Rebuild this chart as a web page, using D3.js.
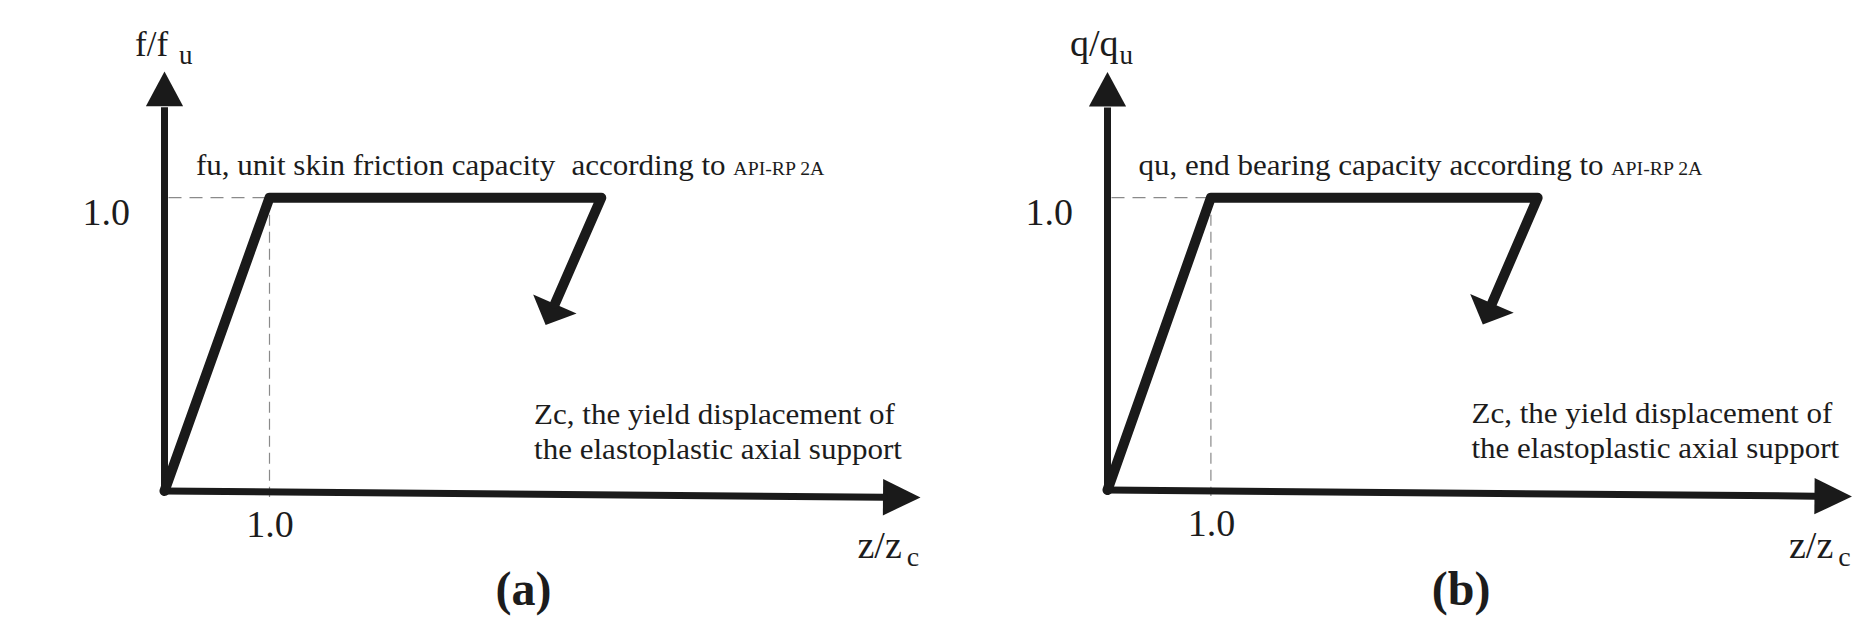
<!DOCTYPE html>
<html>
<head>
<meta charset="utf-8">
<script src="https://cdn.jsdelivr.net/npm/d3@7/dist/d3.min.js"></script>
<style>
  html, body { margin: 0; padding: 0; background: #fff; }
  svg { display: block; }
  text { font-family: "Liberation Serif", "Times New Roman", serif; fill: #1c1c1c; }
</style>
</head>
<body>
<svg id="chart"></svg>
<script>
// ---------------- data ----------------
const panelTags   = ["(a)", "(b)"];
const yLabelMain  = ["f/f", "q/q"];
const yLabelSub   = ["u", "u"];
const xLabelMain  = "z/z";
const xLabelSub   = "c";
const topNotes    = ["fu, unit skin friction capacity", "qu, end bearing capacity"];
const topNotesEnd = "according to";
const standardRef = "API-RP 2A";
const zcNote      = ["Zc, the yield displacement of", "the elastoplastic axial support"];
const curveZ      = [0, 1.0, 4.16];   // z/zc
const curveF      = [0, 1.0, 1.0];    // f/fu (q/qu)
const dropTipZ    = 3.63;             // softening arrow tip
const dropTipF    = 0.566;
const xTickValues = [1.0];
const yTickValues = [1.0];
const zMax = 7.2, fMax = 1.43;

// ---------------- layout ----------------
const W = 1871, H = 629;
const layout = [
  { x0: 164.5,  unitX: 105.0, y0: 491, unitY: 293.3, yLabelDx: -29.5, yLabelFont: 35, subDx: 11, noteGap: 8 },
  { x0: 1107.5, unitX: 103.4, y0: 490, unitY: 292.3, yLabelDx: -37.5, yLabelFont: 38, subDx: 1,  noteGap: 0 }
];
const ink = "#1a1a1a";

const svg = d3.select("#chart").attr("width", W).attr("height", H);

function arrowHead(g, tip, from, len, hw) {
  const dx = tip[0] - from[0], dy = tip[1] - from[1];
  const L = Math.hypot(dx, dy), ux = dx / L, uy = dy / L;
  const bx = tip[0] - ux * len, by = tip[1] - uy * len;
  const px = -uy, py = ux;
  g.append("path")
    .attr("d", d3.line()([tip, [bx + px * hw, by + py * hw], [bx - px * hw, by - py * hw]]) + "Z")
    .attr("fill", ink);
  return [bx, by];
}

layout.forEach((P, i) => {
  const x = d3.scaleLinear().domain([0, zMax]).range([P.x0, P.x0 + zMax * P.unitX]);
  const y = d3.scaleLinear().domain([0, fMax]).range([P.y0, P.y0 - fMax * P.unitY]);
  const g = svg.append("g");

  // dashed guide lines at 1.0
  g.append("line")
    .attr("x1", x(0) + 4).attr("x2", x(xTickValues[0]))
    .attr("y1", y(yTickValues[0])).attr("y2", y(yTickValues[0]))
    .attr("stroke", "#8a8a8a").attr("stroke-width", 1.2).attr("stroke-dasharray", "13,8");
  g.append("line")
    .attr("x1", x(xTickValues[0])).attr("x2", x(xTickValues[0]))
    .attr("y1", y(yTickValues[0])).attr("y2", y(0) + 6)
    .attr("stroke", "#8a8a8a").attr("stroke-width", 1.2).attr("stroke-dasharray", "11,6");

  // y axis with arrow
  const yTip = [x(0), y(fMax)];
  const yBase = arrowHead(g, yTip, [x(0), y(0)], 34.6, 18.6);
  g.append("line")
    .attr("x1", x(0)).attr("y1", y(0) + 3)
    .attr("x2", x(0)).attr("y2", yBase[1] + 1)
    .attr("stroke", ink).attr("stroke-width", 7);

  // x axis with arrow (slightly tilted as drawn)
  const xTip = [x(zMax), y(0) + 6.5];
  const xBase = arrowHead(g, xTip, [x(0), y(0)], 37.5, 18.2);
  g.append("line")
    .attr("x1", x(0)).attr("y1", y(0))
    .attr("x2", xBase[0] + 1).attr("y2", xBase[1])
    .attr("stroke", ink).attr("stroke-width", 7).attr("stroke-linecap", "round");

  // load-displacement curve with softening arrow
  const pts = curveZ.map((z, k) => [x(z), y(curveF[k])]);
  const tip = [x(dropTipZ), y(dropTipF)];
  const dropBase = arrowHead(g, tip, pts[pts.length - 1], 23, 23.7);
  g.append("path")
    .attr("d", d3.line()([...pts, dropBase]))
    .attr("fill", "none").attr("stroke", ink).attr("stroke-width", 10)
    .attr("stroke-linejoin", "round").attr("stroke-linecap", "round");

  // tick labels via d3 axes
  const xAxis = g.append("g").attr("transform", `translate(0,${y(0)})`)
    .call(d3.axisBottom(x).tickValues(xTickValues).tickFormat(d3.format(".1f")).tickSize(0).tickPadding(19.5));
  const yAxis = g.append("g").attr("transform", `translate(${x(0)},0)`)
    .call(d3.axisLeft(y).tickValues(yTickValues).tickFormat(d3.format(".1f")).tickSize(0).tickPadding(34.5));
  [xAxis, yAxis].forEach(a => {
    a.select(".domain").remove();
    a.selectAll("text").attr("font-family", "Liberation Serif").attr("font-size", 38).attr("fill", ink);
  });
  yAxis.selectAll("text").attr("dy", "0.7em");

  // y-axis label
  const yl = g.append("text").attr("x", x(0) + P.yLabelDx).attr("y", 56).attr("font-size", P.yLabelFont);
  yl.append("tspan").text(yLabelMain[i]);
  yl.append("tspan").attr("dx", P.subDx).attr("dy", 8).attr("font-size", 27).text(yLabelSub[i]);

  // x-axis label
  const xl = g.append("text").attr("x", x(zMax) - 63).attr("y", 557.5).attr("font-size", 38);
  xl.append("tspan").text(xLabelMain);
  xl.append("tspan").attr("dx", 5).attr("dy", 8.5).attr("font-size", 28).text(xLabelSub);

  // capacity note
  const tn = g.append("text")
    .attr("transform", `translate(${x(0.3)},${y(1.077)}) scale(1.07,1)`)
    .attr("font-size", 29);
  tn.append("tspan").text(topNotes[i] + " ");
  tn.append("tspan").attr("dx", P.noteGap).text(topNotesEnd + " ");
  tn.append("tspan").attr("font-size", 18.5).text(standardRef);

  // yield displacement note
  zcNote.forEach((line, k) => {
    g.append("text")
      .attr("transform", `translate(${x(3.52)},${y(0.228) + k * 35}) scale(1.07,1)`)
      .attr("font-size", 29).text(line);
  });

  // panel tag
  g.append("text").attr("x", x(3.42)).attr("y", 605)
    .attr("text-anchor", "middle").attr("font-size", 48).attr("font-weight", "bold")
    .text(panelTags[i]);
});
</script>
</body>
</html>
